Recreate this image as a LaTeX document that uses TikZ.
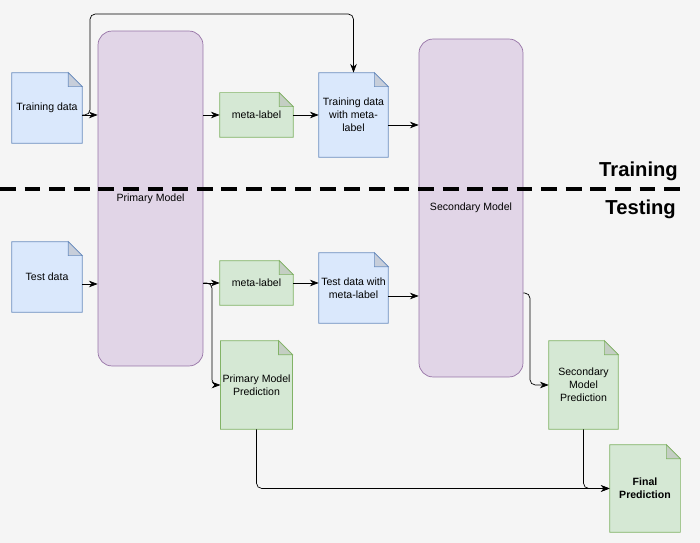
\documentclass[tikz,border=0pt]{standalone}
\usepackage{fontspec}
\setmainfont{Liberation Sans}
\usetikzlibrary{arrows.meta, backgrounds}

\definecolor{bluefill}{HTML}{DAE8FC}
\definecolor{bluedraw}{HTML}{6C8EBF}
\definecolor{greenfill}{HTML}{D5E8D4}
\definecolor{greendraw}{HTML}{82B366}
\definecolor{purplefill}{HTML}{E1D5E7}
\definecolor{purpledraw}{HTML}{9673A6}

\tikzset{
  doc/.style={inner sep=1pt, align=center, font=\fontsize{6}{7.5}\selectfont},
  model/.style={draw=purpledraw, fill=purplefill, rounded corners=8pt, font=\fontsize{6}{7.5}\selectfont},
  arr/.style={-{Stealth[length=5pt]}, thin, rounded corners=3pt},
}

% folded-corner outline behind a named node
\newcommand\docoutline[3]{
  \begin{scope}[on background layer]
    \filldraw[draw=#3, fill=#2] (#1.south west) -- (#1.north west) -- ([xshift=-0.28cm]#1.north east)
      -- ([yshift=-0.28cm]#1.north east) -- (#1.south east) -- cycle;
    \filldraw[draw=#3, fill=#2!80!black!70] ([xshift=-0.28cm]#1.north east) -- ([xshift=-0.28cm,yshift=-0.28cm]#1.north east)
      -- ([yshift=-0.28cm]#1.north east) -- cycle;
  \end{scope}
}

\begin{document}
\begin{tikzpicture}[x=0.02cm, y=-0.02cm]
  \useasboundingbox (0,0) rectangle (700,543);
  \begin{scope}[on background layer]
    \fill[black!4] (0,0) rectangle (700,543);
  \end{scope}

  \node[model, minimum width=2.1cm, minimum height=6.7cm] (primary) at (150.5,198.5) {Primary Model};
  \node[model, minimum width=2.08cm, minimum height=6.76cm] (secondary) at (471,208) {Secondary Model};

  \node[doc, minimum width=1.4cm, minimum height=1.4cm] (train) at (47,108) {Training data};
  \node[doc, minimum width=1.4cm, minimum height=1.4cm] (test) at (47,277) {Test data};
  \node[doc, minimum width=1.46cm, minimum height=0.88cm] (meta1) at (256.5,115) {meta-label};
  \node[doc, minimum width=1.46cm, minimum height=0.88cm] (meta2) at (256.5,283) {meta-label};
  \node[doc, minimum width=1.38cm, minimum height=1.68cm] (trainmeta) at (353.5,115) {Training data\\with meta-\\label};
  \node[doc, minimum width=1.38cm, minimum height=1.4cm] (testmeta) at (353.5,288) {Test data with\\meta-label};
  \node[doc, minimum width=1.38cm, minimum height=1.76cm] (primpred) at (256.5,385) {Primary Model\\Prediction};
  \node[doc, minimum width=1.38cm, minimum height=1.76cm] (secpred) at (583.5,385) {Secondary\\Model\\Prediction};
  \node[doc, minimum width=1.4cm, minimum height=1.74cm, font=\fontsize{6}{7.5}\selectfont\bfseries] (final) at (645,488.5) {Final\\Prediction};

  \docoutline{train}{bluefill}{bluedraw}
  \docoutline{test}{bluefill}{bluedraw}
  \docoutline{trainmeta}{bluefill}{bluedraw}
  \docoutline{testmeta}{bluefill}{bluedraw}
  \docoutline{meta1}{greenfill}{greendraw}
  \docoutline{meta2}{greenfill}{greendraw}
  \docoutline{primpred}{greenfill}{greendraw}
  \docoutline{secpred}{greenfill}{greendraw}
  \docoutline{final}{greenfill}{greendraw}

  % training phase
  \draw[arr] (train.east |- 0,115) -- (primary.west |- 0,115);
  \draw[arr] (train.east |- 0,115) -| (90,14) -| (trainmeta.north);
  \draw[arr] (primary.east |- meta1) -- (meta1.west);
  \draw[arr] (meta1.east) -- (trainmeta.west);
  \draw[arr] (trainmeta.east |- 0,125) -- (secondary.west |- 0,125);

  % testing phase
  \draw[arr] (test.east |- 0,284) -- (primary.west |- 0,284);
  \draw[arr] (primary.east |- meta2) -- (meta2.west);
  \draw[arr] (primary.east |- meta2) -- (212,283) |- (primpred.west);
  \draw[arr] (meta2.east) -- (testmeta.west |- meta2);
  \draw[arr] (testmeta.east |- 0,296) -- (secondary.west |- 0,296);
  \draw[arr] (secondary.east |- 0,293) -- (530,293) |- (secpred.west);
  \draw[arr] (primpred.south) |- (final.west);
  \draw[arr] (secpred.south) |- (final.west);

  \draw[line width=2pt, dash pattern=on 9pt off 5pt] (0,189) coordinate (split) -- (685,189) coordinate (splitend);
  \node[font=\fontsize{11.5}{13}\selectfont\bfseries, anchor=east] (traininglbl) at (684,171) {Training};
  \node[font=\fontsize{11.5}{13}\selectfont\bfseries, anchor=east] (testinglbl) at (682,209) {Testing};
\end{tikzpicture}
\end{document}
